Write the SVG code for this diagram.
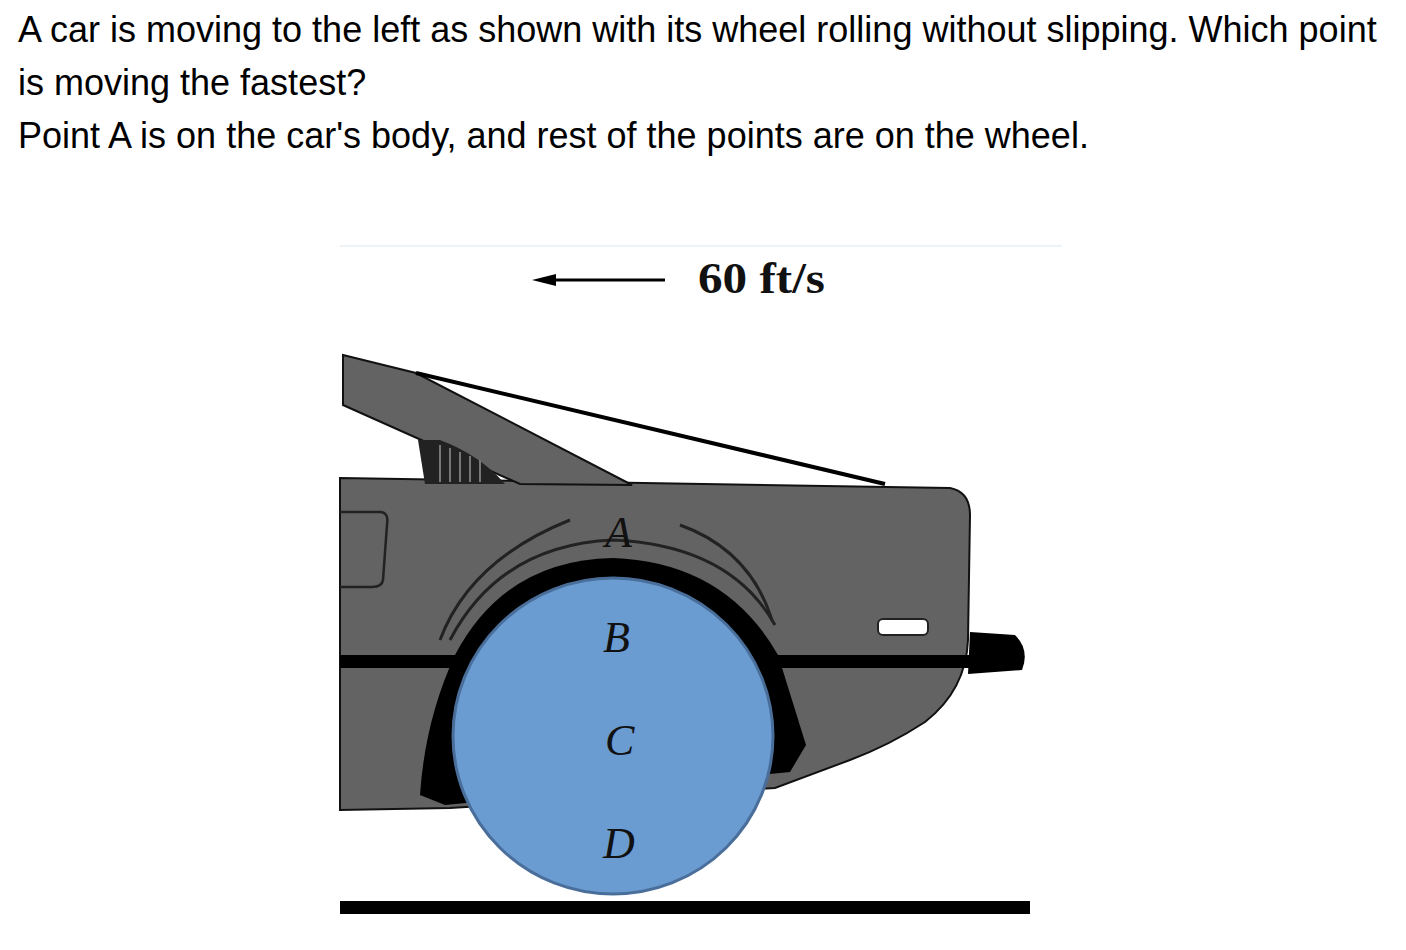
<svg xmlns="http://www.w3.org/2000/svg" width="1406" height="950" viewBox="0 0 1406 950">
<style>
.q{font-family:"Liberation Sans",Arial,sans-serif;font-size:36px;fill:#000}
.lbl{font-family:"Liberation Serif","DejaVu Serif",serif;font-style:italic;font-size:44px;fill:#111}
.thin{fill:none;stroke:#222;stroke-width:3}
</style>
<rect width="1406" height="950" fill="#fff"/>
<text class="q" x="18" y="42">A car is moving to the left as shown with its wheel rolling without slipping. Which point</text>
<text class="q" x="18" y="95">is moving the fastest?</text>
<text class="q" x="18" y="148">Point A is on the car's body, and rest of the points are on the wheel.</text>
<g id="scene">
<line x1="340" y1="246" x2="1062" y2="246" stroke="#eef3f8" stroke-width="2"/>
<g id="arrow"><line x1="550" y1="280" x2="665" y2="280" stroke="#000" stroke-width="3"/><path d="M532,280 L556,274 L556,286 Z" fill="#000"/></g>
<text x="698" y="293" font-family="Liberation Serif,serif" font-size="44" font-weight="bold" fill="#111" textLength="127" lengthAdjust="spacingAndGlyphs">60 ft/s</text>
<path d="M340,478 L950,488 Q970,492 970,515 L968,640 Q966,690 925,722 Q890,745 850,760 L775,788 L450,808 L340,810 Z" fill="#636363" stroke="#111" stroke-width="2"/>
<path d="M343,355 L416,373 L632,485 L520,484 L343,405 Z" fill="#636363" stroke="#111" stroke-width="2"/>
<path d="M418,440 L425,484 L505,484 Q480,455 440,440 Z" fill="#222"/>
<path d="M440,445 L440,482 M450,448 L450,482 M460,452 L460,482 M470,456 L470,482 M480,460 L480,482" stroke="#777" stroke-width="2"/>
<line x1="416" y1="373" x2="885" y2="484" stroke="#000" stroke-width="4"/>
<path d="M340,512 L380,512 Q389,512 387,525 L383,580 Q382,587 372,587 L340,587" fill="none" stroke="#222" stroke-width="2.5"/>
<path d="M440,640 Q470,560 570,520" class="thin"/>
<path d="M680,525 Q750,550 772,620" class="thin"/>
<path d="M450,640 Q500,545 613,540 Q730,545 775,625" class="thin"/>
<rect x="878" y="619" width="50" height="16" rx="5" fill="#fff" stroke="#222" stroke-width="2"/>
<path d="M970,632 L1015,635 Q1030,650 1022,670 L968,674 Z" fill="#000"/>
<rect x="340" y="655" width="632" height="13" fill="#000"/>
<path d="M420,795 Q425,720 455,655 Q505,560 613,558 Q725,562 778,655 L806,745 L790,772 L445,805 Z" fill="#000"/>
</g>
<g id="wheel"><ellipse cx="613" cy="736" rx="160" ry="158" fill="#6a9bd1" stroke="#4a6e9a" stroke-width="3"/></g>
<rect x="340" y="901" width="690" height="13" fill="#000"/>
<text class="lbl" x="605" y="547">A</text>
<text class="lbl" x="603" y="652">B</text>
<text class="lbl" x="605" y="755">C</text>
<text class="lbl" x="603" y="858">D</text>
</svg>
